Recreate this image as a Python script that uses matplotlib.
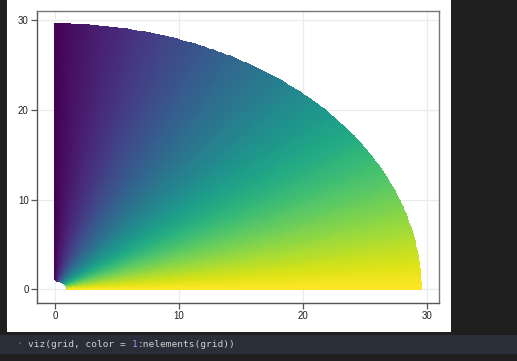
import matplotlib
matplotlib.use("Agg")
import matplotlib.pyplot as plt
import numpy as np
from matplotlib.patches import Rectangle

# quarter annulus grid, coloured by element index (1:nelements)
r_inner = 1.0
r_outer = 29.5
n_theta = 120
n_r = 60
x_ticks = [0, 10, 20, 30]
y_ticks = [0, 10, 20, 30]

W, H = 517, 361
fig = plt.figure(figsize=(W / 100, H / 100), dpi=100)
fig.patch.set_facecolor("#1f1f1f")

# white output panel and code cell bar
fig.patches.append(Rectangle((7 / W, 1 - 332 / H), 444 / W, 332 / H,
                             transform=fig.transFigure, facecolor="white",
                             edgecolor="none", zorder=-10))
fig.patches.append(Rectangle((0, 1 - 354 / H), 1, 19 / H,
                             transform=fig.transFigure, facecolor="#2a2e39",
                             edgecolor="none", zorder=-10))

ax = fig.add_axes([37 / W, 1 - 302.7 / H, 402 / W, 291.7 / H])
ax.set_zorder(1)
ax.set_facecolor("white")

theta_edges = np.linspace(np.pi / 2, 0, n_theta + 1)
r_edges = np.linspace(r_inner, r_outer, n_r + 1)
T, R = np.meshgrid(theta_edges, r_edges, indexing="ij")
X = R * np.cos(T)
Y = R * np.sin(T)
color = np.arange(1, n_theta * n_r + 1).reshape(n_theta, n_r)
ax.pcolormesh(X, Y, color, cmap="viridis", shading="flat",
              edgecolors="face", linewidth=0.2, zorder=2)

pad = 0.05 * r_outer
ax.set_xlim(-pad, r_outer + pad)
ax.set_ylim(-pad, r_outer + pad)
ax.set_xticks(x_ticks)
ax.set_yticks(y_ticks)
ax.grid(True, color="#ebebeb", linewidth=0.9, zorder=0)
ax.set_axisbelow(True)
for side in ["left", "bottom"]:
    ax.spines[side].set_color("#555555")
    ax.spines[side].set_linewidth(1.0)
for side in ["top", "right"]:
    ax.spines[side].set_color("#777777")
    ax.spines[side].set_linewidth(1.0)
ax.tick_params(length=4, width=0.9, color="#555555", labelsize=7,
               labelcolor="#222222", pad=2)
for lab in ax.get_xticklabels() + ax.get_yticklabels():
    lab.set_fontfamily("Liberation Sans")

# code line below the output
y_code = 1 - 344.5 / H
fig.text(17 / W, y_code, "·", color="#6a6a6a", fontsize=7,
         family="DejaVu Sans Mono", va="center")
mono = dict(fontsize=6.8, family="DejaVu Sans Mono", va="center")
t1 = fig.text(28 / W, y_code, "viz(grid, color = ", color="#d0d0d0", **mono)
fig.canvas.draw()
renderer = fig.canvas.get_renderer()
bb1 = t1.get_window_extent(renderer)
t2 = fig.text(bb1.x1 / W, y_code, "1", color="#a98bdc", **mono)
bb2 = t2.get_window_extent(renderer)
fig.text(bb2.x1 / W, y_code, ":nelements(grid))", color="#d0d0d0", **mono)

fig.savefig("out.png", dpi=100, facecolor=fig.get_facecolor())
